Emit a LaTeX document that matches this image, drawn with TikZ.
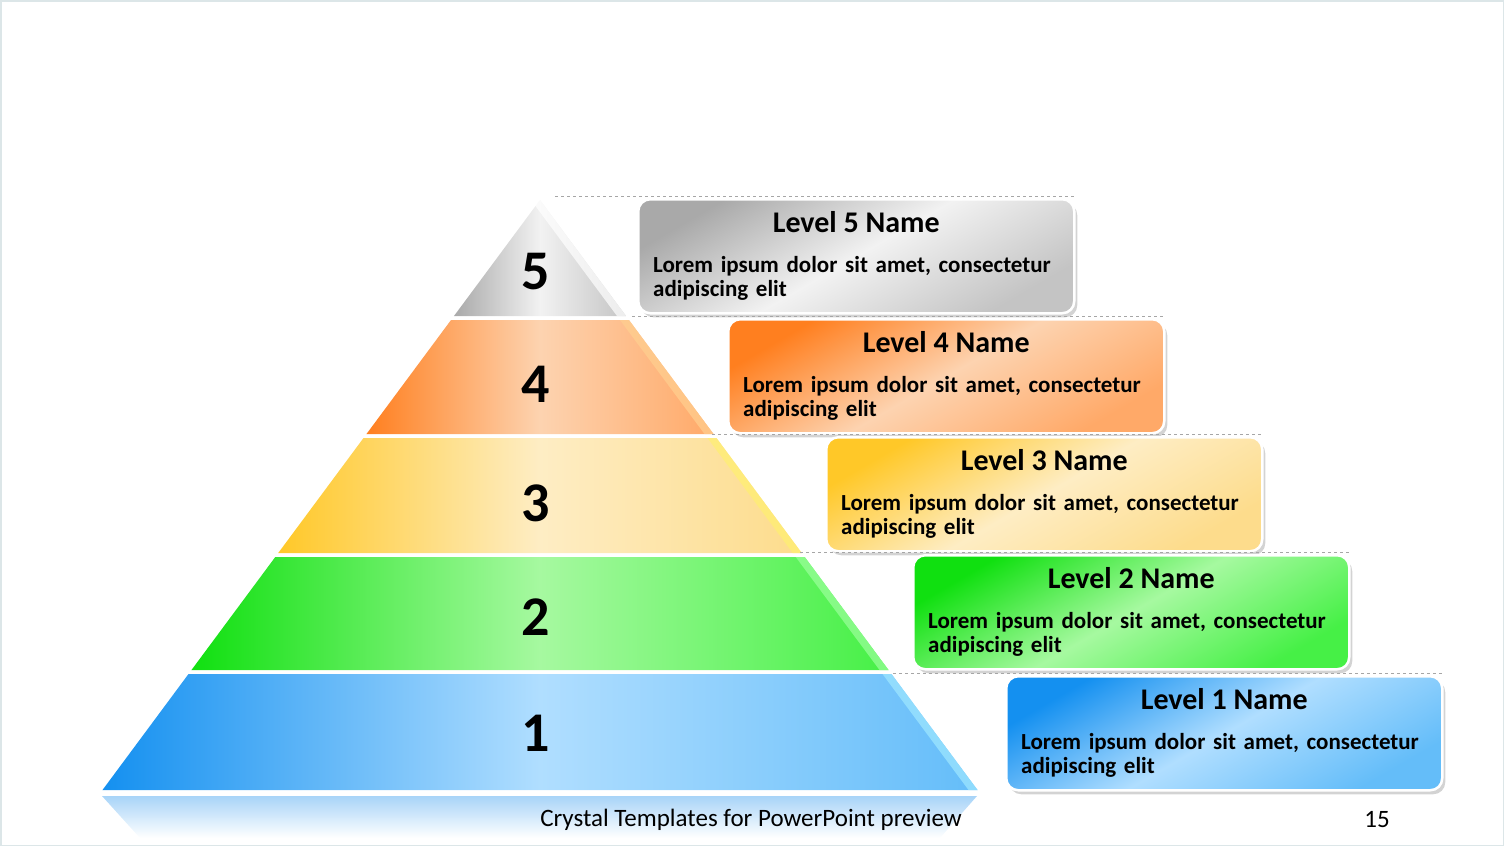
\documentclass[tikz,border=0pt]{standalone}
\usepackage{fontspec}
\setmainfont{Carlito}
\usetikzlibrary{positioning,shadows,calc}

\definecolor{frameline}{HTML}{DCE6E8}
\definecolor{refl}{HTML}{A8D4F8}
\definecolor{dark5}{HTML}{A9A9A9}\definecolor{light5}{HTML}{F2F2F2}\definecolor{mid5}{HTML}{C4C4C4}\definecolor{edge5}{HTML}{FFFFFF}
\definecolor{dark4}{HTML}{FF7F1F}\definecolor{light4}{HTML}{FDD3B0}\definecolor{mid4}{HTML}{FFA968}\definecolor{edge4}{HTML}{FFD090}
\definecolor{dark3}{HTML}{FFC828}\definecolor{light3}{HTML}{FEEDC4}\definecolor{mid3}{HTML}{FDDC8C}\definecolor{edge3}{HTML}{FFF070}
\definecolor{dark2}{HTML}{10E010}\definecolor{light2}{HTML}{A6F9A0}\definecolor{mid2}{HTML}{46F046}\definecolor{edge2}{HTML}{9CFF9C}
\definecolor{dark1}{HTML}{1490F0}\definecolor{light1}{HTML}{B0DEFF}\definecolor{mid1}{HTML}{64BDF9}\definecolor{edge1}{HTML}{A0E8FF}

\begin{document}
\begin{tikzpicture}[
  x=1pt, y=-1pt,
  num/.style={font=\fontsize{56}{56}\selectfont\bfseries},
  card/.style={draw=white, line width=2.5pt, rounded corners=12pt, minimum width=436pt, minimum height=114pt, anchor=north west,
    drop shadow={shadow xshift=3pt, shadow yshift=-4pt, opacity=0.35}},
  cardtitle/.style={font=\fontsize{30}{32}\selectfont\bfseries, inner sep=0pt},
  cardbody/.style={font=\fontsize{23}{24}\selectfont\bfseries, align=left, text width=420pt, inner sep=0pt},
  guide/.style={dashed, draw=gray!70, line width=0.6pt},
  foot/.style={font=\fontsize{25}{28}\selectfont}
]
\useasboundingbox (0,0) rectangle (1504,846);
\draw[frameline, line width=1.5pt] (0.75,0.75) rectangle (1503.25,845.25);

% reflection under the base
\shade[top color=refl, bottom color=white] (102,796) -- (977,796) -- (940,838) -- (140,838) -- cycle;

% pyramid bands
\foreach \n/\yt/\yb/\ny in {5/200/316/272, 4/320/434/384, 3/438/553/503, 2/557/670/617, 1/674/790/733}{
  \pgfmathsetmacro\wt{0.74153*(\yt-200)}
  \pgfmathsetmacro\wb{0.74153*(\yb-200)}
  \path[left color=dark\n, right color=mid\n, middle color=light\n]
    ({540-\wt},\yt) -- ({540+\wt},\yt) -- ({540+\wb},\yb) -- ({540-\wb},\yb) -- cycle;
  \fill[edge\n, opacity=0.7]
    ({540+\wt},\yt) -- ({540+\wb},\yb) -- ({540+\wb-9},\yb) -- ({540+\wt-9},\yt) -- cycle;
  \node[num] (num\n) at (536,\ny) {\n};
}

% level cards
\foreach \n/\x/\y/\gx in {5/637/198/555, 4/727/318/632, 3/825/436/712, 2/912/554/800, 1/1005/675/893}{
  \draw[guide] (\gx,{\y-2}) -- (\x+438,{\y-2});
  \node[card, top color=dark\n, bottom color=mid\n, middle color=light\n, shading angle=30] (card\n) at (\x,\y) {};
  \node[cardtitle, below=13pt of card\n.north] (title\n) {Level \n\ Name};
  \node[cardbody, anchor=north west, below right=58pt and 16pt of card\n.north west] (body\n)
    {Lorem ipsum dolor sit amet, consectetur\\adipiscing elit};
}

\node[foot] (footer) at (751,820) {Crystal Templates for PowerPoint preview};
\node[foot] (page) at (1377,820) {15};
\end{tikzpicture}
\end{document}
